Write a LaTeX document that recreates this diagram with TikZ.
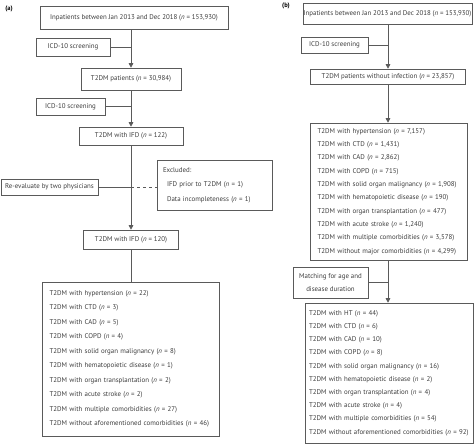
\documentclass[tikz,border=0pt]{standalone}
\usepackage{fontspec}
\setmainfont{PT Sans}
\usetikzlibrary{arrows.meta,positioning}
\definecolor{linegray}{HTML}{5A5A5A}
\definecolor{textgray}{HTML}{3C3C3C}
\newcommand{\ncount}[1]{(\textit{n} = #1)}

\begin{document}
\begin{tikzpicture}[x=1pt,y=-1pt,
  box/.style={draw=linegray, line width=0.6pt, inner sep=0pt, text=textgray,
    font=\fontsize{6.9}{8}\selectfont, align=center},
  listbox/.style={box, align=left, inner xsep=7.5pt,
    font=\fontsize{6.9}{#1}\selectfont},
  link/.style={draw=linegray, line width=0.6pt},
  arr/.style={link, -{Triangle[length=4.5pt,width=4.5pt]}}]

\useasboundingbox (0,0) rectangle (474,445);

% panel (a)
\node (labA) at (9,9) [font=\fontsize{6.5}{8}\selectfont\bfseries] {(a)};
\node (inA) at (134,17.5) [box, minimum width=188pt, minimum height=23pt]
   {Inpatients between Jan 2013 and Dec 2018 \ncount{153,930}};
\node (icdA1) at (73,47) [box, minimum width=74pt, minimum height=18pt] {ICD-10 screening};
\node (patA) at (131,79) [box, minimum width=100pt, minimum height=22pt]
   {T2DM patients \ncount{30,984}};
\node (icdA2) at (70.5,106.5) [box, minimum width=69pt, minimum height=17pt] {ICD-10 screening};
\node (ifdA1) at (131,136) [box, minimum width=104pt, minimum height=18pt]
   {T2DM with IFD \ncount{122}};
\node (reA) at (49.5,187) [box, minimum width=97pt, minimum height=16pt]
   {Re-evaluate by two physicians};
\node (exA) at (214.5,185) [listbox=14.5, inner xsep=6pt, text width=103pt,
    minimum height=50pt]
   {Excluded:\\
    \hspace*{4pt}IFD prior to T2DM \ncount{1}\\
    \hspace*{4pt}Data incompleteness \ncount{1}};
\node (ifdA2) at (131,239.5) [box, minimum width=95pt, minimum height=19pt]
   {T2DM with IFD \ncount{120}};
\node (listA) at (130.5,359) [listbox=14.5, text width=162pt, minimum height=154pt]
   {T2DM with hypertension \ncount{22}\\
    T2DM with CTD \ncount{3}\\
    T2DM with CAD \ncount{5}\\
    T2DM with COPD \ncount{4}\\
    T2DM with solid organ malignancy \ncount{8}\\
    T2DM with hematopoietic disease \ncount{1}\\
    T2DM with organ transplantation \ncount{2}\\
    T2DM with acute stroke \ncount{2}\\
    T2DM with multiple comorbidities \ncount{27}\\
    T2DM without aforementioned comorbidities \ncount{46}};

\draw[arr] (inA.south -| patA.north) -- (patA.north);
\draw[link] (icdA1.east) -- (icdA1.east -| patA.north);
\draw[arr] (patA.south) -- (ifdA1.north);
\draw[link] (icdA2.east) -- (icdA2.east -| patA.south);
\draw[arr] (ifdA1.south) -- (ifdA2.north);
\draw[link] (reA.east) -- (reA.east -| ifdA1.south);
\draw[link, dashed] (reA.east -| ifdA1.south) -- (exA.west |- reA.east);
\draw[link] (ifdA2.south) -- (listA.north -| ifdA2.south);

% panel (b)
\node (labB) at (286,6) [font=\fontsize{6.5}{8}\selectfont\bfseries] {(b)};
\node (inB) at (387.5,13.5) [box, minimum width=169pt, minimum height=21pt]
   {Inpatients between Jan 2013 and Dec 2018 \ncount{153,930}};
\node (icdB) at (334.5,45) [box, minimum width=67pt, minimum height=16pt] {ICD-10 screening};
\node (patB) at (388,76.5) [box, minimum width=155pt, minimum height=15pt]
   {T2DM patients without infection \ncount{23,857}};
\node (listB1) at (388.5,191.5) [listbox=13.33, text width=142pt, minimum height=137pt]
   {T2DM with hypertension \ncount{7,157}\\
    T2DM with CTD \ncount{1,431}\\
    T2DM with CAD \ncount{2,862}\\
    T2DM with COPD \ncount{715}\\
    T2DM with solid organ malignancy \ncount{1,908}\\
    T2DM with hematopoietic disease \ncount{190}\\
    T2DM with organ transplantation \ncount{477}\\
    T2DM with acute stroke \ncount{1,240}\\
    T2DM with multiple comorbidities \ncount{3,578}\\
    T2DM without major comorbidities \ncount{4,299}};
\node (matchB) at (330.5,282.5) [box, minimum width=75pt, minimum height=31pt,
    font=\fontsize{6.9}{13}\selectfont]
   {Matching for age and\\disease duration};
\node (listB2) at (389,373) [listbox=13.2, inner xsep=4pt, text width=160pt,
    minimum height=140pt]
   {T2DM with HT \ncount{44}\\
    T2DM with CTD \ncount{6}\\
    T2DM with CAD \ncount{10}\\
    T2DM with COPD \ncount{8}\\
    T2DM with solid organ malignancy \ncount{16}\\
    T2DM with hematopoietic disease \ncount{2}\\
    T2DM with organ transplantation \ncount{4}\\
    T2DM with acute stroke \ncount{4}\\
    T2DM with multiple comorbidities \ncount{54}\\
    T2DM without aforementioned comorbidities \ncount{92}};

\draw[arr] (inB.south -| patB.north) -- (patB.north);
\draw[link] (icdB.east) -- (icdB.east -| patB.north);
\draw[arr] (patB.south) -- (listB1.north -| patB.south);
\draw[arr] (listB1.south -| patB.south) -- (listB2.north -| patB.south);
\draw[link] (matchB.east) -- (matchB.east -| patB.south);

\end{tikzpicture}
\end{document}
